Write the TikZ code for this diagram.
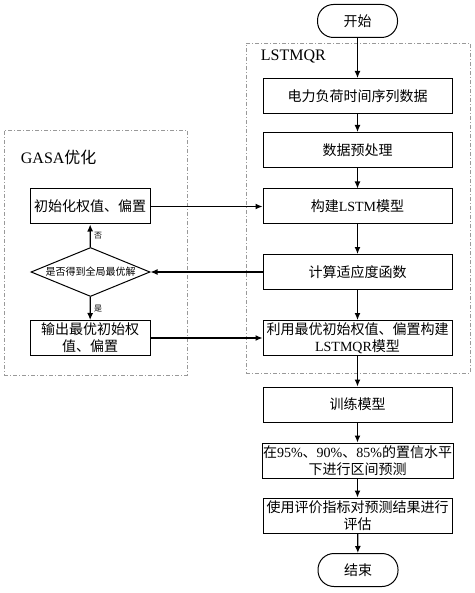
\documentclass[tikz,border=0pt]{standalone}
\usepackage{fontspec}
\setmainfont{Liberation Serif}
\newfontfamily\cjk{Noto Sans CJK SC}
\usetikzlibrary{positioning}
\usetikzlibrary{shapes.geometric}
\usetikzlibrary{arrows.meta}

\begin{document}
\begin{tikzpicture}[
    x=1pt, y=-1pt,
    block/.style={rectangle, draw, line width=1pt, minimum width=189pt, minimum height=35pt, inner sep=1pt, align=center, font=\cjk\fontsize{14}{17}\selectfont},
    gablock/.style={block, minimum width=120pt},
    terminal/.style={rectangle, draw, line width=1pt, rounded corners=16pt, minimum width=80pt, minimum height=33pt, font=\cjk\fontsize{14}{17}\selectfont},
    decision/.style={diamond, draw, line width=1pt, aspect=2.4, inner sep=0pt, minimum width=119pt, minimum height=49pt, font=\cjk\fontsize{10}{12}\selectfont},
    group/.style={rectangle, draw=gray!80, line width=0.6pt, dash pattern=on 4pt off 2pt on 1pt off 2pt},
    flow/.style={-{Latex[length=7pt,width=6pt]}, line width=1.2pt},
    choice/.style={font=\cjk\fontsize{8}{9}\selectfont}
]
    \useasboundingbox (0,0) rectangle (474,593);

    % Groups
    \node[group, minimum width=224pt, minimum height=330pt] (lstmqr) at (358,208) {};
    \node[below right=7pt and 15pt of lstmqr.north west, inner sep=0pt, font=\fontsize{16}{18}\selectfont] (lstmqrname) {LSTMQR};
    \node[group, minimum width=183pt, minimum height=245pt] (gasa) at (95.5,252.5) {};
    \node[below right=20pt and 17pt of gasa.north west, inner sep=0pt, font=\fontsize{16}{18}\selectfont] (gasaname) {GASA{\cjk 优化}};

    % Start
    \node[terminal] (start) at (357.5,21) {开始};

    % LSTMQR steps
    \node[block] (data) at (357.5,96) {电力负荷时间序列数据};
    \draw[flow] (start) -- (data);
    \node[block] (prep) at (357.5,150) {数据预处理};
    \draw[flow] (data) -- (prep);
    \node[block] (build) at (357.5,206.5) {构建{\rmfamily LSTM}模型};
    \draw[flow] (prep) -- (build);
    \node[block] (fitness) at (357.5,272) {计算适应度函数};
    \draw[flow] (build) -- (fitness);
    \node[block] (rebuild) at (357.5,338) {利用最优初始权值、偏置构建\\{\rmfamily LSTMQR}模型};
    \draw[flow] (fitness) -- (rebuild);

    % After LSTMQR
    \node[block] (train) at (357.5,404.5) {训练模型};
    \draw[flow] (rebuild) -- (train);
    \node[block] (predict) at (357.5,460.5) {在{\rmfamily 95\%}、{\rmfamily 90\%}、{\rmfamily 85\%}的置信水平\\下进行区间预测};
    \draw[flow] (train) -- (predict);
    \node[block] (assess) at (357.5,515.5) {使用评价指标对预测结果进行\\评估};
    \draw[flow] (predict) -- (assess);

    % End
    \node[terminal] (stop) at (358,570) {结束};
    \draw[flow] (assess) -- (stop);

    % GASA steps
    \node[gablock] (init) at (90,206.5) {初始化权值、偏置};
    \draw[flow] (init) -- (build);
    \node[decision] (best) at (90.5,272) {是否得到全局最优解};
    \draw[flow] (fitness) -- (best);
    \draw[flow] (best) -- node[choice, right] {否} (init);
    \node[gablock] (output) at (90,338) {输出最优初始权\\值、偏置};
    \draw[flow] (best) -- node[choice, right] {是} (output);
    \draw[flow] (output) -- (rebuild);
\end{tikzpicture}
\end{document}
